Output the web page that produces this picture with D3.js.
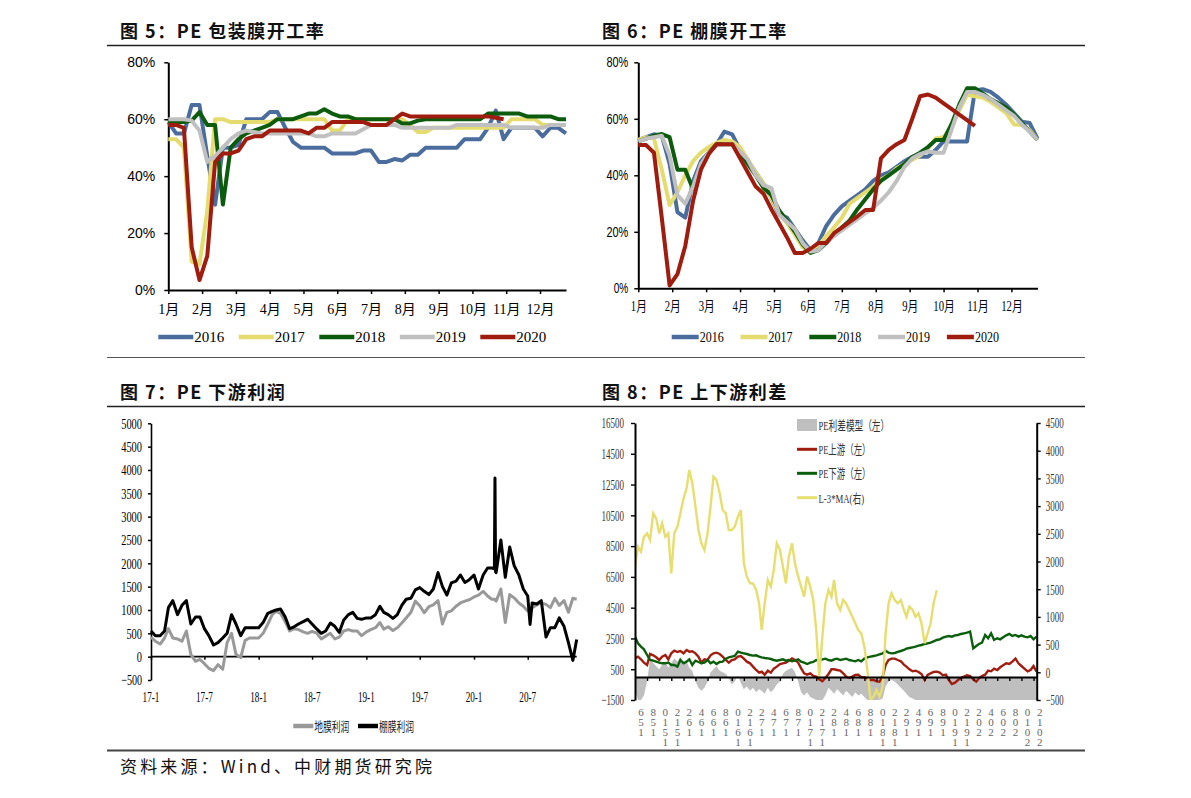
<!DOCTYPE html>
<html>
<head>
<meta charset="utf-8">
<script src="https://cdn.jsdelivr.net/npm/d3@7"></script>
<style>
  body { margin: 0; background: #fff; overflow: hidden; }
  text { font-family: "Liberation Serif", "Noto Sans CJK SC", serif; }
</style>
</head>
<body>
<svg id="chart" width="1191" height="798"></svg>
<script>
// ---------- 图5 / 图6: weekly operating rate (%) ----------
const monthLabels = ["1月", "2月", "3月", "4月", "5月", "6月", "7月", "8月", "9月", "10月", "11月", "12月"];
const years = ["2016", "2017", "2018", "2019", "2020"];
const yearColors = ["#4a6d9d", "#e5dc6f", "#0d5c0d", "#c0c0c0", "#9f1c0e"];

const pack2016 = [59, 55, 55, 65, 65, 47, 30, 50, 50, 51, 60, 60, 60, 62.5, 62.5, 57, 52, 50, 50, 50, 50, 48, 48, 48, 48, 49,
                  49, 45, 45, 46, 45.5, 47.5, 47.5, 50, 50, 50, 50, 50, 53, 53, 53, 57, 63, 53, 57, 57, 57, 57, 54, 57, 57, 55];
const pack2017 = [53, 53, 50, 10, 9, 28, 60, 60, 59, 59, 59, 59, 59, 59, 60, 60, 60, 60, 60, 60, 60, 56, 56, 60, 60, 60,
                  60, 60, 60, 60, 60, 58, 55.5, 55.5, 57, 57, 57, 57, 57, 57, 57, 57, 57, 57, 60, 60, 60, 60, 58, 58, 58, 58];
const pack2018 = [59, 59, 59, 59.5, 62.5, 58, 58, 30, 50, 53, 55, 56, 57, 58, 60, 60, 60, 61, 62, 62, 63.5, 62, 61, 61, 60, 60,
                  60, 60, 60, 60, 58.5, 58.5, 59.5, 60, 60, 60, 60, 60, 60, 60, 60, 62, 62, 62, 62, 62, 61, 61, 61, 61, 60, 60];
const pack2019 = [60, 60, 60, 59.5, 56, 45, 47, 50, 53, 55, 56, 55.5, 55, 55, 55, 55, 55, 55, 55, 54, 54, 55, 55, 55, 55, 56.5,
                  58, 58, 58, 58, 57, 57, 57, 57, 57, 57, 57, 58, 58, 58, 58, 58, 58, 58, 57, 57, 57, 57, 57, 58, 58, 58];
const pack2020 = [58, 58, 57, 15, 3.5, 12, 45, 48, 48, 49, 53, 54, 54, 56, 56, 56, 56, 56, 55, 57, 57, 59, 59, 59, 59, 59,
                  58, 58, 58, 60, 62, 61, 61, 61, 61, 61, 61, 61, 61, 61, 61, 61, 60.5, 60];

const shed2016 = [52.5, 53.5, 54.5, 54, 44, 27, 25, 38, 45, 48, 51, 55.5, 54.5, 49, 45, 41, 37, 32, 26, 25, 21, 17, 13.5, 16, 22, 26,
                  29, 31, 33, 35, 38, 40, 41, 43, 45, 46.6, 46.6, 46.6, 49, 52, 52, 52, 52, 70, 70.5, 69.5, 67.5, 65, 62, 59, 58.5, 53];
const shed2017 = [52.5, 53.5, 53, 42, 29.5, 34, 40, 45, 48, 50, 51.5, 52.5, 52, 50, 45.5, 41, 37, 32, 26.5, 23, 19, 14.5, 13, 15, 18.5, 21.5,
                  25, 30, 32, 34, 36, 38.5, 40, 42.5, 44, 45.5, 47, 49.5, 53, 53.5, 57, 63, 68.5, 68, 67.5, 66, 64, 62, 58, 57.8, 56, 52.5];
const shed2018 = [52, 53, 54, 54.6, 53.5, 42, 42, 35, 43, 48, 51, 51, 51, 48, 44, 40, 35.5, 33, 27.5, 24, 20, 15.5, 12.5, 13.5, 16, 19,
                  21.5, 24, 28, 31.5, 35, 38, 40, 42, 44, 46.5, 48, 50, 52.5, 52.5, 58, 65, 70.8, 70.8, 69, 67, 65.5, 64, 61.5, 58.5, 55.5, 52.5];
const shed2019 = [52, 53, 53.5, 54, 47, 33, 30, 36, 44, 48, 50.5, 51, 51, 48.5, 45.5, 40, 36.5, 35.5, 26, 23.5, 21, 16, 13, 13.5, 16.5, 18.5,
                  20.5, 22.5, 24.5, 26.5, 28.5, 31, 34, 38, 43, 46, 47.5, 48.5, 48, 48, 56, 64, 69.5, 69.5, 68.5, 67, 65, 63, 61, 58, 55.5, 52.5];
const shed2020 = [50.7, 50.7, 48, 25, 1, 5, 15, 31, 42, 47.5, 51, 51, 51, 46, 41, 36, 33.5, 28, 23, 18, 12.5, 12.5, 14, 16, 16, 19.5,
                  21.5, 23.5, 25.5, 27.7, 27.7, 46, 49, 51, 52.5, 60, 68, 68.6, 67.5, 65.5, 63.5, 61.5, 59.5, 57.5];

// ---------- 图7: downstream profit ----------
const profitTicks = ["17-1", "17-7", "18-1", "18-7", "19-1", "19-7", "20-1", "20-7"];
const profitDates = [
  "2017-01-01", "2017-01-16", "2017-02-01", "2017-02-16", "2017-03-01", "2017-03-16", "2017-04-01", "2017-04-16",
  "2017-05-01", "2017-05-16", "2017-06-01", "2017-06-16", "2017-07-01", "2017-07-16", "2017-08-01", "2017-08-16",
  "2017-09-01", "2017-09-16", "2017-10-01", "2017-10-16", "2017-11-01", "2017-11-16", "2017-12-01", "2017-12-16",
  "2018-01-01", "2018-01-16", "2018-02-01", "2018-02-16", "2018-03-01", "2018-03-16", "2018-04-01", "2018-04-16",
  "2018-05-01", "2018-05-16", "2018-06-01", "2018-06-16", "2018-07-01", "2018-07-16", "2018-08-01", "2018-08-16",
  "2018-09-01", "2018-09-16", "2018-10-01", "2018-10-16", "2018-11-01", "2018-11-16", "2018-12-01", "2018-12-16",
  "2019-01-01", "2019-01-16", "2019-02-01", "2019-02-16", "2019-03-01", "2019-03-16", "2019-04-01", "2019-04-16",
  "2019-05-01", "2019-05-16", "2019-06-01", "2019-06-16", "2019-07-01", "2019-07-16", "2019-08-01", "2019-08-16",
  "2019-09-01", "2019-09-16", "2019-10-01", "2019-10-16", "2019-11-01", "2019-11-16", "2019-12-01", "2019-12-16",
  "2020-01-01", "2020-01-16", "2020-02-01", "2020-02-16", "2020-03-01", "2020-03-10", "2020-03-12", "2020-03-14",
  "2020-03-16", "2020-04-01", "2020-04-16", "2020-05-01", "2020-05-16", "2020-06-01", "2020-06-16", "2020-07-01",
  "2020-07-09", "2020-07-16", "2020-08-01", "2020-08-16", "2020-09-01", "2020-09-16", "2020-10-01", "2020-10-16",
  "2020-11-01", "2020-11-16", "2020-12-01", "2020-12-14"];
// 地膜利润
const mulchProfit = [
  420, 330, 270, 400, 600, 400, 380, 330, 550, 50, -100, -60, -150, -250, -300, -170, -270, 300, 500, 50, -20, 350, 400, 400,
  400, 500, 700, 900, 970, 930, 750, 550, 600, 580, 530, 500, 540, 510, 380, 440, 500, 380, 420, 550, 580, 550, 550, 450,
  530, 580, 620, 730, 590, 640, 560, 620, 720, 830, 950, 1190, 1090, 940, 1070, 1110, 1200, 700, 950, 980, 1080, 1150, 1190, 1220,
  1280, 1320, 1400, 1300, 1230, 1230, 1220, 1200, 1190, 1450, 730, 1330, 1260, 1150, 1080, 980, 1000, 1050, 1110, 1150, 1120,
  1050, 1250, 1100, 1200, 950, 1250, 1230];
// 棚膜利润
const shedProfit = [
  550, 450, 450, 550, 1050, 1200, 900, 1100, 1200, 700, 850, 850, 600, 450, 250, 300, 400, 500, 900, 700, 450, 620, 620, 620,
  620, 730, 930, 970, 1000, 1020, 850, 600, 640, 700, 750, 800, 700, 600, 500, 550, 720, 650, 520, 780, 900, 950, 820, 800,
  830, 830, 900, 1080, 950, 900, 820, 900, 1100, 1230, 1250, 1430, 1480, 1400, 1330, 1450, 1800, 1500, 1320, 1580, 1620, 1750, 1590, 1650,
  1750, 1450, 1750, 1900, 1900, 1880, 3830, 1820, 1800, 2500, 1700, 2350, 1950, 1750, 1450, 1300, 690, 1150, 1130, 1200, 420,
  620, 620, 830, 650, 300, -80, 370];

// ---------- 图8: upstream / downstream spread ----------
const spreadTicks = ["15-6", "15-8", "15-10", "15-12", "16-2", "16-4", "16-6", "16-8", "16-10", "16-12",
  "17-2", "17-4", "17-6", "17-8", "17-10", "17-12", "18-2", "18-4", "18-6", "18-8", "18-10", "18-12",
  "19-2", "19-4", "19-6", "19-8", "19-10", "19-12", "20-2", "20-4", "20-6", "20-8", "20-10", "20-12"];
const spreadNames = ["PE利差模型（左）", "PE上游（左）", "PE下游（左）", "L-3*MA(右)"];
const spreadDates = [
  "2015-06-01", "2015-06-16", "2015-07-01", "2015-07-16", "2015-08-01", "2015-08-16", "2015-09-01", "2015-09-16",
  "2015-10-01", "2015-10-16", "2015-11-01", "2015-11-16", "2015-12-01", "2015-12-16",
  "2016-01-01", "2016-01-16", "2016-02-01", "2016-02-16", "2016-03-01", "2016-03-16", "2016-04-01", "2016-04-16",
  "2016-05-01", "2016-05-16", "2016-06-01", "2016-06-16", "2016-07-01", "2016-07-16", "2016-08-01", "2016-08-16",
  "2016-09-01", "2016-09-16", "2016-10-01", "2016-10-16", "2016-11-01", "2016-11-16", "2016-12-01", "2016-12-16",
  "2017-01-01", "2017-01-16", "2017-02-01", "2017-02-16", "2017-03-01", "2017-03-16", "2017-04-01", "2017-04-16",
  "2017-05-01", "2017-05-16", "2017-06-01", "2017-06-16", "2017-07-01", "2017-07-16", "2017-08-01", "2017-08-16",
  "2017-09-01", "2017-09-16", "2017-10-01", "2017-10-16", "2017-11-01", "2017-11-16", "2017-12-01", "2017-12-16",
  "2018-01-01", "2018-01-16", "2018-02-01", "2018-02-16", "2018-03-01", "2018-03-16", "2018-04-01", "2018-04-16",
  "2018-05-01", "2018-05-16", "2018-06-01", "2018-06-16", "2018-07-01", "2018-07-16", "2018-08-01", "2018-08-16",
  "2018-09-01", "2018-09-16", "2018-10-01", "2018-10-16", "2018-11-01", "2018-11-16", "2018-12-01", "2018-12-16",
  "2019-01-01", "2019-01-16", "2019-02-01", "2019-02-16", "2019-03-01", "2019-03-16", "2019-04-01", "2019-04-16",
  "2019-05-01", "2019-05-16", "2019-06-01", "2019-06-16", "2019-07-01", "2019-07-16", "2019-08-01", "2019-08-16",
  "2019-09-01", "2019-09-16", "2019-10-01", "2019-10-16", "2019-11-01", "2019-11-16", "2019-12-01", "2019-12-16",
  "2020-01-01", "2020-01-16", "2020-02-01", "2020-02-16", "2020-03-01", "2020-03-16", "2020-04-01", "2020-04-16",
  "2020-05-01", "2020-05-16", "2020-06-01", "2020-06-16", "2020-07-01", "2020-07-16", "2020-08-01", "2020-08-16",
  "2020-09-01", "2020-09-16", "2020-10-01", "2020-10-16", "2020-11-01", "2020-11-16", "2020-12-01", "2020-12-16"];
const spreadModel = [
  -900, -1500, -1500, -1200, -300, 1200, 900, 700, 500, 800, 1000, 600, 900, 1200, 1000, 1300, 800, 1000, 600, 400,
  -300, -700, -900, -700, -300, 300, 500, 700, 400, 300, 200, -100, -500, -300, 100, -400, -800, -600, -900, -700,
  -1000, -800, -900, -1100, -700, -1000, -800, -500, -300, 200, 400, 500, 600, 300, -300, -1000, -1200, -1000, -1300, -1400,
  -1500, -1500, -1500, -1200, -700, -900, -1100, -800, -1000, -1200, -900, -1100, -1300, -1000, -1200, -1100, -1300, -1500, -1500, -1500,
  -1500, -1500, -1400, -600, -300, -200, -300, -500, -700, -900, -1100, -1300, -1400, -1500, -1500, -1500, -1500, -1500, -1500, -1500,
  -1500, -1500, -1500, -1500, -1500, -1500, -1500, -1500, -1500, -1500, -1500, -1500, -1500, -1500, -1500, -1500, -1500, -1500, -1500, -1500,
  -1500, -1500, -1500, -1500, -1500, -1500, -1500, -1500, -1500, -1500, -1500, -1500, -1500, -1500];
const upstream = [
  1209, 1317, 1144, 927, 775, 1490, 1404, 1274, 1100, 1317, 1425, 1144, 1533, 1707, 1620, 1685, 1533, 1750, 1642, 1664,
  1533, 1317, 927, 1144, 1100, 1404, 1533, 1577, 1490, 1317, 1100, 927, 1100, 1144, 1317, 1360, 1187, 992, 884, 667,
  450, 277, 342, 147, 407, 277, 537, 667, 840, 884, 927, 1057, 1209, 1100, 927, 559, 234, 147, 234, 60,
  17, -156, -286, -70, 190, 494, 494, 450, 407, 234, 17, -70, 17, 125, 147, -26, -26, -91, -200, -200,
  -286, -308, 17, 775, 1100, 1187, 1187, 1100, 1014, 797, 667, 494, 364, 407, 320, 190, -200, 125, 234, 320,
  342, 277, 104, 147, -200, -460, -373, -200, -70, 17, 104, 60, -156, -308, -91, 60, 147, 407, 364, 537,
  450, 624, 754, 884, 840, 992, 1187, 884, 710, 537, 364, 450, 710, 342];
const downstream = [
  2617, 2184, 1967, 1794, 1425, 1100, 1057, 992, 927, 884, 884, 927, 775, 775, 667, 1100, 884, 992, 1144, 775,
  1057, 970, 884, 927, 1100, 884, 992, 840, 970, 992, 1187, 1274, 1317, 1360, 1642, 1577, 1533, 1490, 1425, 1382,
  1404, 1317, 1274, 1230, 1209, 1165, 1100, 1057, 1100, 1144, 1057, 1100, 1014, 1057, 1144, 992, 927, 840, 927, 970,
  1100, 1057, 1144, 1187, 1100, 1057, 1144, 1187, 1100, 1144, 1187, 1100, 1057, 1014, 1100, 1014, 1187, 1274, 1317, 1360,
  1404, 1468, 1533, 1707, 1577, 1533, 1555, 1620, 1685, 1750, 1837, 1880, 1924, 1967, 2032, 2076, 2141, 2184, 2227, 2314,
  2401, 2444, 2552, 2617, 2661, 2617, 2704, 2726, 2791, 2834, 2877, 2942, 1859, 2011, 2141, 2227, 2726, 2509, 2834, 2401,
  2509, 2444, 2574, 2704, 2791, 2661, 2726, 2617, 2704, 2617, 2574, 2661, 2444, 2617];
// L-3*MA, right axis, ends Aug 2019
const lMinusMA = [
  1907, 2268, 2178, 2448, 2508, 2388, 2870, 2779, 2508, 2689, 2448, 2508, 1786, 2508, 2629, 2870, 3140, 3321, 3652, 3411,
  2990, 2569, 2328, 2208, 2508, 2990, 3531, 3471, 3231, 2930, 2870, 2569, 2569, 2629, 2809, 2930, 1967, 1726, 1606, 1606,
  1486, 1245, 764, 1245, 1666, 1546, 1847, 2328, 2208, 1907, 1606, 2087, 2328, 1967, 1726, 1546, 1365, 1726, 1546, 1305,
  764, -79, 643, 1245, 1486, 1365, 1666, 1245, 1125, 1305, 1245, 1125, 1004, 884, 764, 703, 463, 42, -500, -440,
  -320, -440, -259, 703, 1245, 1425, 1305, 1245, 1305, 1125, 1004, 1185, 1125, 1004, 1065, 884, 523, 703, 884, 1245, 1480];

// ---------- page frame ----------
const svg = d3.select("#chart");
const parseDay = d3.timeParse("%Y-%m-%d");
const isCJK = ch => /[\u3000-\u303f\u4e00-\u9fff\uff00-\uffef]/.test(ch);

// squeeze text to the narrow look of the original
function fit(sel, latin, cjk) {
  sel.attr("textLength", function () {
    let w = 0;
    for (const ch of this.textContent) w += isCJK(ch) ? cjk : latin;
    return w;
  }).attr("lengthAdjust", "spacingAndGlyphs");
}

[[45.5, "#222", 1.3], [357.5, "#555", 1], [406.5, "#222", 1.3], [750.5, "#444", 2]].forEach(([y, c, w]) => {
  svg.append("line").attr("x1", 107).attr("x2", 1085).attr("y1", y).attr("y2", y)
    .attr("stroke", c).attr("stroke-width", w);
});

[["图 5：PE 包装膜开工率", 120, 38], ["图 6：PE 棚膜开工率", 602, 38],
 ["图 7：PE 下游利润", 120, 399], ["图 8：PE 上下游利差", 602, 399]].forEach(([t, x, y]) => {
  svg.append("text").attr("x", x).attr("y", y).text(t)
    .style("font-family", '"Noto Sans CJK SC", sans-serif').attr("font-weight", 700)
    .attr("font-size", 18).attr("letter-spacing", 1.5).attr("fill", "#111");
});

svg.append("text").attr("x", 120).attr("y", 773).text("资料来源：Wind、中财期货研究院")
  .style("font-family", '"Noto Sans CJK SC", sans-serif').attr("font-size", 17).attr("fill", "#111")
  .attr("textLength", 312).attr("lengthAdjust", "spacing");

// ---------- 图5 / 图6 ----------
function ratePanel(cfg) {
  const x = d3.scaleLinear().domain([0, 51]).range([cfg.left, cfg.right]);
  const y = d3.scaleLinear().domain([0, 80]).range([cfg.bottom, cfg.top]);
  const g = svg.append("g");

  const ya = g.append("g").attr("transform", `translate(${cfg.left},0)`)
    .call(d3.axisLeft(y).tickValues([0, 20, 40, 60, 80]).tickFormat(d => d + "%")
      .tickSize(4).tickSizeOuter(0).tickPadding(cfg.yPad));
  const xa = g.append("g").attr("transform", `translate(0,${cfg.bottom})`)
    .call(d3.axisBottom(x).tickValues(monthLabels.map((m, i) => i * 52 / 12))
      .tickFormat((d, i) => monthLabels[i]).tickSize(4).tickSizeOuter(0).tickPadding(cfg.xPad));
  g.selectAll(".domain").attr("stroke", "#000").attr("stroke-width", 2);
  g.selectAll(".tick line").attr("stroke", "#000").attr("stroke-width", 1.5);

  const yt = ya.selectAll("text").attr("fill", "#000").attr("font-size", 14);
  const xt = xa.selectAll("text").attr("fill", "#000").attr("font-size", 14)
    .style("font-family", '"Liberation Serif", "Noto Sans CJK SC", serif');
  if (cfg.narrow) {
    yt.style("font-family", '"Liberation Sans", sans-serif');
    fit(yt, 7.3, 10);
    fit(xt, 5.5, 10.5);
  } else {
    yt.style("font-family", '"Liberation Sans", Arial, sans-serif');
  }

  const line = d3.line().x((d, i) => x(i)).y(d => y(d));
  cfg.series.forEach((vals, i) => {
    g.append("path").datum(vals).attr("fill", "none").attr("stroke", yearColors[i])
      .attr("stroke-width", 4).attr("stroke-linejoin", "round").attr("d", line);
  });

  years.forEach((yr, i) => {
    const lx = cfg.legendX + i * cfg.legendStep;
    g.append("line").attr("x1", lx).attr("x2", lx + cfg.swatch).attr("y1", 337).attr("y2", 337)
      .attr("stroke", yearColors[i]).attr("stroke-width", 4.5);
    const t = g.append("text").attr("x", lx + cfg.swatch + 1).attr("y", 342).text(yr)
      .attr("font-size", 15).attr("fill", "#000");
    if (cfg.narrow) t.attr("textLength", 24).attr("lengthAdjust", "spacingAndGlyphs");
  });
}

ratePanel({ left: 168.3, right: 566, top: 62.3, bottom: 290, yPad: 9, xPad: 10,
  legendX: 158.3, legendStep: 80.5, swatch: 35, narrow: false,
  series: [pack2016, pack2017, pack2018, pack2019, pack2020] });
ratePanel({ left: 638.3, right: 1037.5, top: 62.3, bottom: 288.3, yPad: 6, xPad: 9,
  legendX: 671.7, legendStep: 68.8, swatch: 27, narrow: true,
  series: [shed2016, shed2017, shed2018, shed2019, shed2020] });

// ---------- 图7 ----------
(function () {
  const dates = profitDates.map(parseDay);
  const x = d3.scaleTime().domain([new Date(2017, 0, 1), new Date(2021, 0, 1)]).range([151, 582]);
  const y = d3.scaleLinear().domain([-500, 5000]).range([680, 423.3]);
  const g = svg.append("g");

  const ya = g.append("g").attr("transform", "translate(151,0)")
    .call(d3.axisLeft(y).tickValues(d3.range(-500, 5001, 500)).tickFormat(d3.format("d"))
      .tickSize(3).tickSizeOuter(0).tickPadding(6));
  ya.select(".domain").attr("stroke", "#000").attr("stroke-width", 1.6);
  ya.selectAll(".tick line").attr("stroke", "#000").attr("stroke-width", 1.5);
  fit(ya.selectAll("text").attr("fill", "#000").attr("font-size", 15), 5.2, 10);

  const tickDates = profitTicks.map(s => { const [yy, mm] = s.split("-"); return new Date(2000 + +yy, mm - 1, 1); });
  const xa = g.append("g").attr("transform", `translate(0,${y(0)})`)
    .call(d3.axisBottom(x).tickValues(tickDates).tickFormat("").tickSize(3).tickSizeOuter(0));
  xa.select(".domain").remove();
  xa.selectAll(".tick line").attr("stroke", "#000").attr("stroke-width", 1.5);
  g.append("line").attr("x1", 151).attr("x2", x(dates[dates.length - 1])).attr("y1", y(0)).attr("y2", y(0))
    .attr("stroke", "#000").attr("stroke-width", 1.6);
  fit(g.selectAll(".xlab").data(profitTicks).join("text").attr("class", "xlab")
    .attr("x", (d, i) => x(tickDates[i])).attr("y", 702).attr("text-anchor", "middle")
    .attr("font-size", 14).attr("fill", "#000").text(d => d), 4.2, 10);

  const line = vals => d3.line().x((d, i) => x(dates[i])).y(d => y(d))(vals);
  g.append("path").attr("d", line(mulchProfit)).attr("fill", "none").attr("stroke", "#999")
    .attr("stroke-width", 3).attr("stroke-linejoin", "round");
  g.append("path").attr("d", line(shedProfit)).attr("fill", "none").attr("stroke", "#000")
    .attr("stroke-width", 3).attr("stroke-linejoin", "round");

  [["地膜利润", "#999", 293.3], ["棚膜利润", "#000", 358]].forEach(([name, c, lx]) => {
    g.append("line").attr("x1", lx).attr("x2", lx + 20).attr("y1", 726).attr("y2", 726)
      .attr("stroke", c).attr("stroke-width", 4.5);
    g.append("text").attr("x", lx + 21).attr("y", 731).text(name).attr("font-size", 13).attr("fill", "#222")
      .style("font-family", '"Noto Sans CJK SC", sans-serif')
      .attr("textLength", 35).attr("lengthAdjust", "spacingAndGlyphs");
  });
})();

// ---------- 图8 ----------
(function () {
  const dates = spreadDates.map(parseDay);
  const x = d3.scaleTime().domain([new Date(2015, 5, 1), new Date(2020, 11, 17)]).range([635, 1036.7]);
  const yL = d3.scaleLinear().domain([-1500, 16500]).range([700, 423]);
  const yR = d3.scaleLinear().domain([-500, 4500]).range([700, 423]);
  const g = svg.append("g");

  g.append("clipPath").attr("id", "clip8").append("rect")
    .attr("x", 635).attr("y", 423).attr("width", 1036.7 - 635).attr("height", 277);
  const plot = g.append("g").attr("clip-path", "url(#clip8)");

  const colors = ["#bfbfbf", "#a11d0f", "#0b5e0b", "#e6de6e"];
  plot.append("path").datum(spreadModel).attr("fill", colors[0])
    .attr("d", d3.area().x((d, i) => x(dates[i])).y0(yL(0)).y1(d => yL(d)));
  const lineL = d3.line().x((d, i) => x(dates[i])).y(d => yL(d));
  const lineR = d3.line().x((d, i) => x(dates[i])).y(d => yR(d));
  plot.append("path").datum(upstream).attr("fill", "none").attr("stroke", colors[1]).attr("stroke-width", 2.4).attr("d", lineL);
  plot.append("path").datum(downstream).attr("fill", "none").attr("stroke", colors[2]).attr("stroke-width", 2.4).attr("d", lineL);
  plot.append("path").datum(lMinusMA).attr("fill", "none").attr("stroke", colors[3]).attr("stroke-width", 2.4).attr("d", lineR);

  const la = g.append("g").attr("transform", "translate(635,0)")
    .call(d3.axisLeft(yL).tickValues(d3.range(-1500, 16501, 2000)).tickFormat(d3.format("d"))
      .tickSize(4).tickSizeOuter(0).tickPadding(7));
  fit(la.selectAll("text").attr("fill", "#333").attr("font-size", 15), 4.5, 10);
  const ra = g.append("g").attr("transform", "translate(1036.7,0)")
    .call(d3.axisRight(yR).tickValues(d3.range(-500, 4501, 500)).tickFormat(d3.format("d"))
      .tickSize(4).tickSizeOuter(0).tickPadding(5));
  fit(ra.selectAll("text").attr("fill", "#333").attr("font-size", 15), 4.5, 10);

  const labelDates = spreadTicks.map(s => { const [yy, mm] = s.split("-"); return new Date(2000 + +yy, mm - 1, 1); });
  const tickDates = labelDates.map(d => d3.timeMonth.offset(d, 2)).filter(d => d < x.domain()[1]);
  g.append("g").attr("transform", `translate(0,${yL(0)})`)
    .call(d3.axisBottom(x).tickValues(tickDates).tickFormat("").tickSize(4).tickSizeOuter(0));
  g.selectAll(".domain").attr("stroke", "#000").attr("stroke-width", 2);
  g.selectAll(".tick line").attr("stroke", "#000").attr("stroke-width", 1.4);

  // vertical stacked date labels
  spreadTicks.forEach((lab, i) => {
    const chars = lab.replace("-", "").split("").reverse();
    const t = g.append("text").attr("text-anchor", "middle").attr("font-size", 11).attr("fill", "#666");
    chars.forEach((ch, j) => {
      t.append("tspan").attr("x", x(d3.timeMonth.offset(labelDates[i], 1))).attr("y", 716 + j * 10).text(ch);
    });
  });

  // legend
  const rows = [425, 449.3, 473.3, 497.7];
  const widths = [70.6, 52, 52, 45.7];
  spreadNames.forEach((name, i) => {
    if (i === 0) {
      g.append("rect").attr("x", 797).attr("y", rows[i] - 6).attr("width", 20).attr("height", 12).attr("fill", colors[0]);
    } else {
      g.append("line").attr("x1", 797).attr("x2", 817).attr("y1", rows[i]).attr("y2", rows[i])
        .attr("stroke", colors[i]).attr("stroke-width", 3);
    }
    g.append("text").attr("x", 818.5).attr("y", rows[i] + 5).text(name).attr("font-size", 13).attr("fill", "#333")
      .attr("textLength", widths[i]).attr("lengthAdjust", "spacingAndGlyphs");
  });
})();
</script>
</body>
</html>
